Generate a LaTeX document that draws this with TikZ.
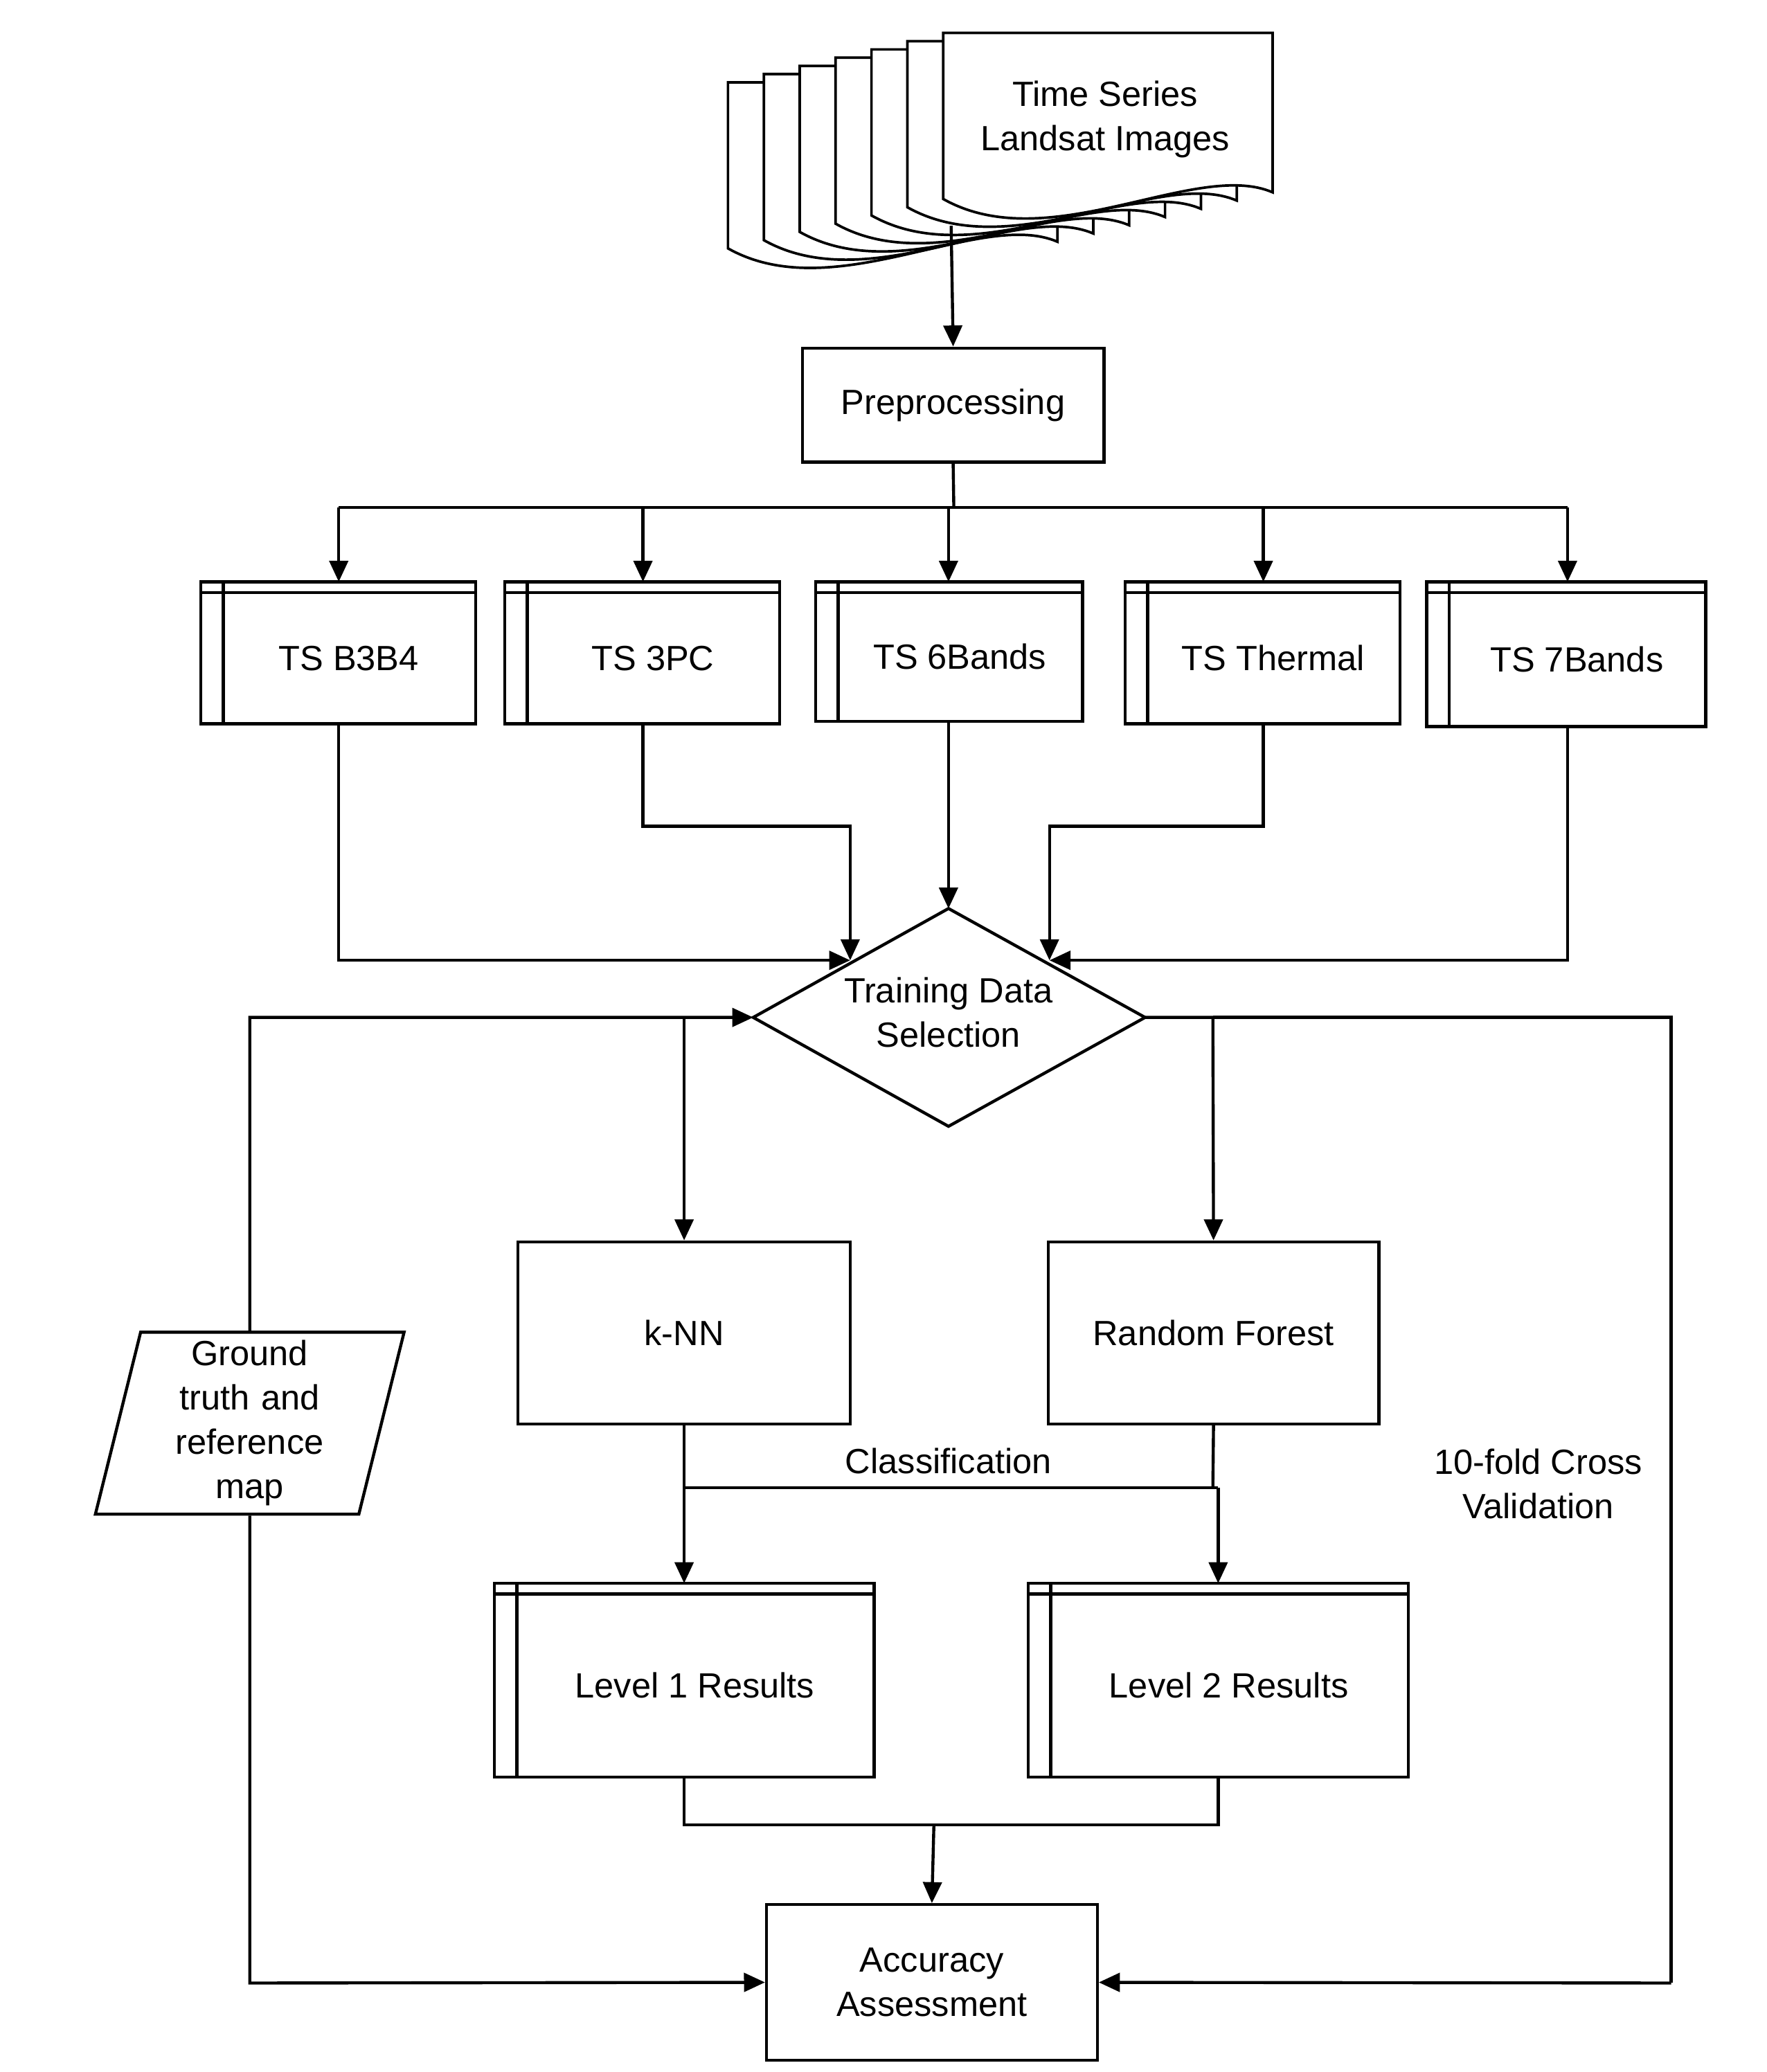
\documentclass[tikz,border=0pt]{standalone}
\usepackage{fontspec}
\setmainfont{Liberation Sans}
\usetikzlibrary{arrows.meta,shapes.geometric}
\begin{document}
\begin{tikzpicture}[x=0.02cm,y=-0.02cm,
  line width=1.3pt, >={Triangle[length=9pt,width=8pt]},
  every node/.style={font=\fontsize{15}{19}\selectfont, align=center},
  box/.style={draw, rectangle, inner sep=0pt},
  doc/.style={draw, fill=white, line width=1.1pt}]
\useasboundingbox (0,0) rectangle (1330,1560);
% document stack
\foreach \i in {0,...,6}{
  \pgfmathsetmacro{\xx}{548+27*\i}
  \pgfmathsetmacro{\yy}{62-6.2*\i}
  \begin{scope}[shift={(\xx,\yy)}]
    \draw[doc] (0,0) -- (248,0) -- (248,120) .. controls (190,95) and (80,170) .. (0,125) -- cycle;
  \end{scope}
}
\node (ts) at (832,90) {Time Series\\Landsat Images};
\coordinate (tsb) at (716,170);
% preprocessing
\node[box, minimum width=227*0.02cm, minimum height=86*0.02cm] (pre) at (717.5,305) {Preprocessing};
\draw[->] (tsb) -- (pre.north);
% predefined boxes
\newcommand{\pbox}[6]{% name x1 x2 y1 y2 text
  \draw (#2,#4) rectangle (#3,#5);
  \draw (#2+17,#4) -- (#2+17,#5);
  \draw (#2,#4+8) -- (#3,#4+8);
  \node (#1) at ({(#2+#3)/2+8},{(#4+#5)/2+4}) {#6};
  \coordinate (#1t) at ({(#2+#3)/2},#4);
}
\pbox{b1}{151}{358}{438}{545}{TS B3B4}
\pbox{b2}{380}{587}{438}{545}{TS 3PC}
\pbox{b3}{614}{815}{438}{543}{TS 6Bands}
\pbox{b4}{847}{1054}{438}{545}{TS Thermal}
\pbox{b5}{1074}{1284}{438}{547}{TS 7Bands}
\coordinate (bus) at (718,382);
\draw (pre.south) -- (bus);
\draw (255,382) -- (1180,382);
\foreach \x in {255,484,714,951,1180}{\draw[->] (\x,382) -- (\x,438);}
% diamond
\draw (714,684) -- (862,766) -- (714,848) -- (567,766) -- cycle;
\node (tds) at (714,762) {Training Data\\Selection};
\coordinate (dl) at (567,766); \coordinate (dr) at (862,766);
\draw[->] (255,545) -- (255,723) -- (640,723);
\draw[->] (484,545) -- (484,622) -- (640,622) -- (640,723);
\draw[->] (714,543) -- (714,684);
\draw[->] (951,545) -- (951,622) -- (790,622) -- (790,723);
\draw[->] (1180,547) -- (1180,723) -- (790,723);
% classifiers
\node[box, minimum width=250*0.02cm, minimum height=137*0.02cm] (knn) at (515,1003.5) {k-NN};
\node[box, minimum width=249*0.02cm, minimum height=137*0.02cm] (rf) at (913.5,1003.5) {Random Forest};
\draw[->] (515,766) -- (knn.north);
\draw[->] (dr) -- (913,766) -- (rf.north);
\draw (913,766) -- (1258,766) -- (1258,1493);
\node at (1158,1117) {10-fold Cross\\Validation};
% ground truth
\node[trapezium, trapezium left angle=76, trapezium right angle=104, draw, minimum height=137*0.02cm, text width=3cm, inner sep=0pt] (gt) at (188,1071.5) {Ground\\truth and\\reference\\map};
\draw[->] (gt.north) -- (188,766) -- (dl);
\node[box, minimum width=249*0.02cm, minimum height=117*0.02cm] (acc) at (701.5,1492.5) {Accuracy\\Assessment};
\draw[->] (gt.south) -- (188,1493) -- (acc.west);
\draw[->] (1258,1493) -- (acc.east);
% classification
\draw (knn.south) -- (515,1120);
\draw (rf.south) -- (913,1120);
\draw (515,1120) -- (917,1120);
\node at (714,1100) {Classification};
\draw[->] (515,1120) -- (515,1192);
\draw[->] (917,1120) -- (917,1192);
\pbox{l1}{372}{658}{1192}{1338}{Level 1 Results}
\pbox{l2}{774}{1060}{1192}{1338}{Level 2 Results}
\draw (515,1338) -- (515,1374) -- (917,1374) -- (917,1338);
\draw[->] (703,1374) -- (acc.north);
\end{tikzpicture}
\end{document}
